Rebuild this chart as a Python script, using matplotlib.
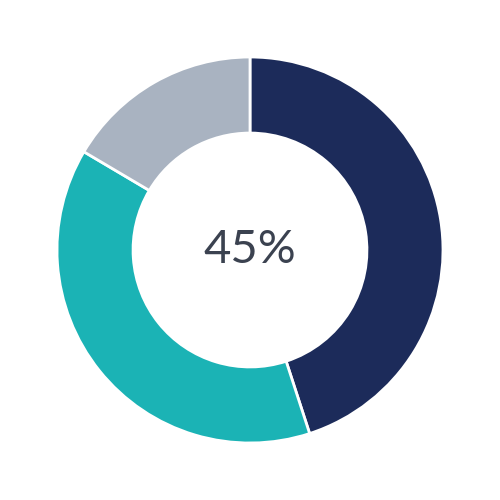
import matplotlib.pyplot as plt

labels = ["Navy", "Teal", "Gray"]
values = [45, 38.5, 16.5]
colors = ["#1c2b5a", "#1bb3b5", "#a9b3c1"]
center_text = "45%"

fig = plt.figure(figsize=(5, 5), dpi=100)
ax = fig.add_axes([0, 0, 1, 1])
ax.pie(values, colors=colors, startangle=90, counterclock=False,
       radius=1.0, wedgeprops=dict(width=0.394, edgecolor="white", linewidth=2))
ax.text(0, 0, center_text, ha="center", va="center", fontsize=34,
        family=["Lato", "DejaVu Sans"], color="#3b4250")
lim = 250 / 193
ax.set_xlim(-lim, lim)
ax.set_ylim(-lim, lim)
ax.set_aspect("equal")
ax.axis("off")
fig.savefig("out.png", dpi=100, facecolor="white")
